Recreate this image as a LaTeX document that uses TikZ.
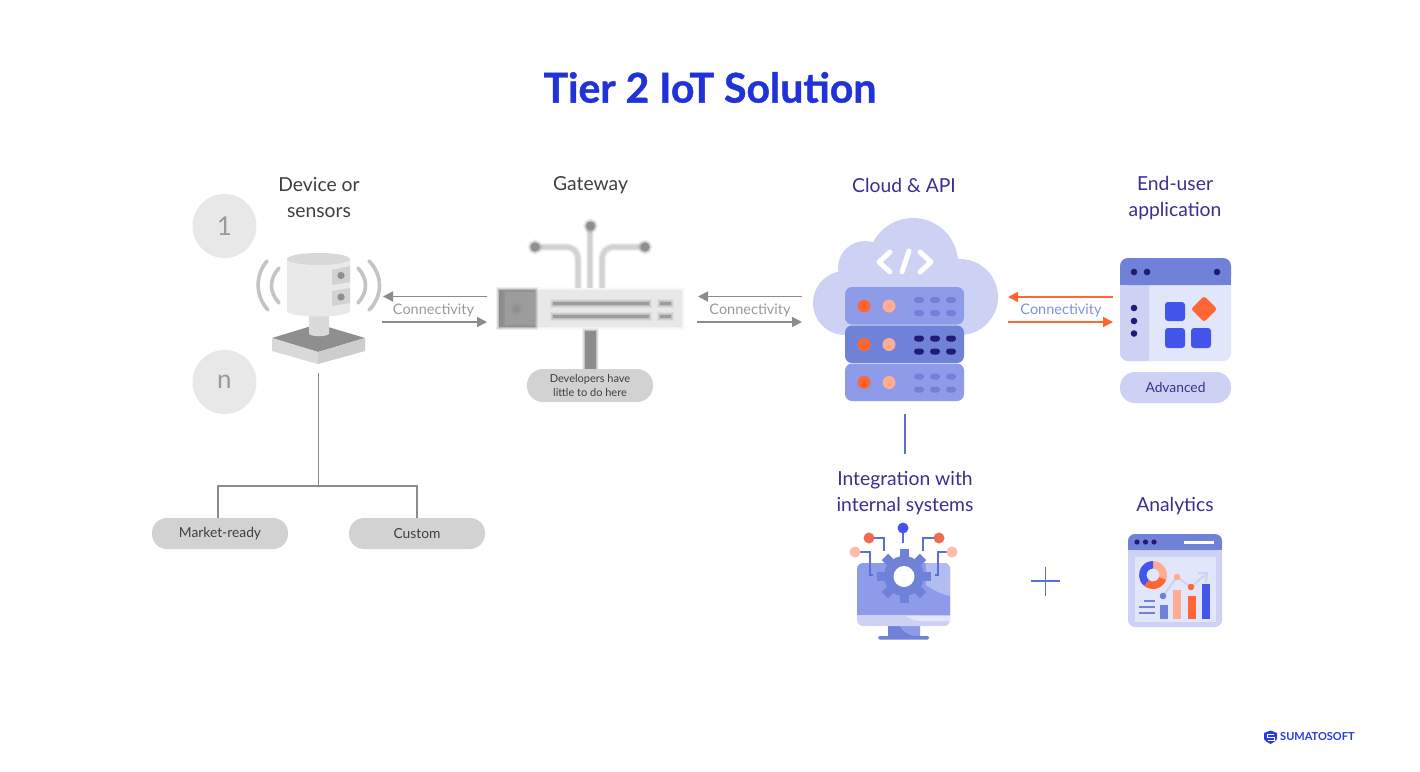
\documentclass[tikz,border=0pt]{standalone}
\usepackage{fontspec}
\setmainfont{Lato}
\newfontfamily\titlefont[FakeBold=1.0]{Lato Bold}
\usetikzlibrary{arrows.meta}
\definecolor{titleblue}{HTML}{1F33D9}
\definecolor{navytext}{HTML}{3A2F8F}
\definecolor{labgrey}{HTML}{3F3F3F}
\definecolor{congrey}{HTML}{9A9A9A}
\definecolor{arrgrey}{HTML}{8C8C8C}
\definecolor{pillgrey}{HTML}{D2D2D2}
\definecolor{circgrey}{HTML}{E8E8E8}
\definecolor{lav}{HTML}{CDD2F4}
\definecolor{lavlight}{HTML}{E2E6FB}
\definecolor{lavmid}{HTML}{B3BCF0}
\definecolor{peri}{HTML}{8E9BE8}
\definecolor{peridark}{HTML}{6F82D8}
\definecolor{navy}{HTML}{231A78}
\definecolor{royal}{HTML}{4355EA}
\definecolor{orangeA}{HTML}{FF6633}
\definecolor{peach}{HTML}{FFAD92}
\definecolor{redsoft}{HTML}{EE6B55}
\definecolor{peachsoft}{HTML}{FFBBA8}
\definecolor{thinblue}{HTML}{5A6FD6}
\definecolor{logoblue}{HTML}{2A3BE0}
\definecolor{gA}{HTML}{8F8F8F}
\definecolor{gB}{HTML}{D9D9D9}
\definecolor{gC}{HTML}{CDCDCD}
\definecolor{gD}{HTML}{DADADA}
\definecolor{gE}{HTML}{E9E9E9}
\definecolor{gF}{HTML}{D8D8D8}
\definecolor{gG}{HTML}{D2D2D2}
\definecolor{gW}{HTML}{C4C4C4}
\definecolor{gS}{HTML}{9C9C9C}
\tikzset{
  lab/.style={font=\fontsize{19.3}{26}\selectfont,align=center,inner sep=0pt},
  conlab/.style={font=\fontsize{14.5}{16}\selectfont,inner sep=0pt},
  pill/.style={rounded corners=15pt,inner sep=0pt,font=\fontsize{13.8}{16}\selectfont,align=center},
  greyarrow/.style={draw=arrgrey,line width=1.8pt,-{Triangle[length=10pt,width=10pt]}},
  orangearrow/.style={draw=orangeA,line width=1.8pt,-{Triangle[length=10pt,width=10pt]}},
  treeline/.style={draw=arrgrey,line width=1.9pt},
  bluerule/.style={draw=thinblue,line width=1.5pt},
  circ/.style={circle,fill=circgrey,minimum size=64pt,inner sep=0pt,text=congrey,font=\fontsize{26}{28}\selectfont},
  blur/.style={preaction={draw=#1,line width=6pt,opacity=.12},preaction={draw=#1,line width=4pt,opacity=.2},preaction={draw=#1,line width=2pt,opacity=.3},fill=#1},
  wave/.style={draw=gW,line width=3.6pt,line cap=round},
  iconwire/.style={draw=thinblue,line width=2pt},
  antenna/.style={draw=pillgrey,line width=4pt,preaction={draw=pillgrey,line width=8pt,opacity=.3},preaction={draw=pillgrey,line width=6pt,opacity=.4}},
}
\begin{document}
\begin{tikzpicture}[x=1pt,y=-1pt]
\useasboundingbox[fill=white] (0,0) rectangle (1420,771);

% Title
\node[inner sep=0pt,text=titleblue,font=\fontsize{41}{44}\titlefont] (title) at (710,87.5) {Tier 2 IoT Solution};

% Headings
\node[lab,text=labgrey] (devlab) at (319,198) {Device or\\sensors};
\node[lab,text=labgrey] (gwlab) at (590.5,185) {Gateway};
\node[lab,text=navytext] (cloudlab) at (904,185) {Cloud \& API};
\node[lab,text=navytext] (applab) at (1175,198) {End-user\\application};
\node[lab,text=navytext] (intlab) at (905,493) {Integration with\\internal systems};
\node[lab,text=navytext] (analab) at (1175,506) {Analytics};

% Count circles
\node[circ] (c1) at (224.5,226) {1};
\node[circ] (cn) at (224.5,382) {n};

% ---------- Device ----------
\draw[wave] (267,261) .. controls (255,275) and (255,296) .. (268,310);
\draw[wave] (279,268) .. controls (269,279) and (269,292) .. (279,303);
\draw[wave] (358,268) .. controls (368,279) and (368,292) .. (358,303);
\draw[wave] (369,261) .. controls (383,275) and (383,296) .. (369,310);
\fill[gA] (272,338) -- (318,324) -- (365,338) -- (318,352) -- cycle;
\fill[gB] (272,338) -- (318,352) -- (318,364) -- (272,351) -- cycle;
\fill[gC] (365,338) -- (318,352) -- (318,364) -- (365,351) -- cycle;
\fill[gD] (309,312) -- (329,312) -- (329,334) .. controls (325,337) and (313,337) .. (309,334) -- cycle;
\fill[gE] (287,259) -- (350,259) -- (350,312) .. controls (340,318) and (297,318) .. (287,312) -- cycle;
\fill[gF] (318.5,259) ellipse[x radius=31.5,y radius=6];
\fill[gG] (332,270) -- (350,266) -- (350,282) -- (332,285) -- cycle;
\fill[gG] (332,291) -- (350,288) -- (350,303) -- (332,306) -- cycle;
\fill[gA] (341,275.5) circle[radius=3.6];
\fill[gA] (341,297) circle[radius=3.6];
\coordinate (devfoot) at (318.5,373);

% device connectivity
\coordinate (dL1) at (383,296.5); \coordinate (dR1) at (487,296.5);
\coordinate (dL2) at (382,322); \coordinate (dR2) at (487,322);
\draw[greyarrow] (dR1) -- (dL1);
\draw[greyarrow] (dL2) -- (dR2);
\node[conlab,text=congrey] (con1) at (433.5,310) {Connectivity};

% tree
\node[pill,fill=pillgrey,text=labgrey,minimum width=136pt,minimum height=31pt] (market) at (220,533.5) {\raisebox{-1pt}{Market-ready}};
\node[pill,fill=pillgrey,text=labgrey,minimum width=136pt,minimum height=31pt] (custom) at (417,533.5) {\raisebox{-1pt}{Custom}};
\coordinate (fork) at (318.5,486);
\coordinate (mtop) at (218,518);
\draw[treeline] (devfoot) -- (fork);
\draw[treeline] (mtop) |- (fork) -| (custom.north);

% ---------- Gateway ----------
\draw[antenna] (590,226) -- (590,288);
\draw[antenna] (535,247) -- (565,247) .. controls (574,247) and (578,252) .. (578,260) -- (578,288);
\draw[antenna] (645,247) -- (615,247) .. controls (606,247) and (602,252) .. (602,260) -- (602,288);
\path[blur=gA] (535,247) circle[radius=4.5];
\path[blur=gA] (645,247) circle[radius=4.5];
\path[blur=gA] (590.5,226) circle[radius=4.5];
\path[blur=arrgrey] (585,331) rectangle (596,369);
\path[blur=circgrey] (500,290) rectangle (682,327);
\path[blur=arrgrey] (499,290) rectangle (535,327);
\path[blur=gS] (505,292) rectangle (535,325);
\path[blur=gA] (516.5,309) circle[radius=3.5];
\path[blur=gS] (553,302) rectangle (649,305);
\path[blur=gS] (553,315) rectangle (649,318);
\path[blur=gS] (660,302) rectangle (671,305);
\path[blur=gS] (660,315) rectangle (671,318);
\node[pill,fill=pillgrey,text=labgrey,rounded corners=16pt,minimum width=126pt,minimum height=33pt,font=\fontsize{11}{14.5}\selectfont] (dev) at (590,385.5) {Developers have\\little to do here};

% gateway connectivity
\coordinate (gL1) at (698,296.5); \coordinate (gR1) at (802,296.5);
\coordinate (gL2) at (697,322); \coordinate (gR2) at (802,322);
\draw[greyarrow] (gR1) -- (gL1);
\draw[greyarrow] (gL2) -- (gR2);
\node[conlab,text=congrey] (con2) at (750,310) {Connectivity};

% ---------- Cloud ----------
\fill[lav] (913,263) circle[radius=45];
\fill[lav] (865,268) circle[radius=27];
\fill[lav] (845,303) circle[radius=32];
\fill[lav] (960,297) circle[radius=38];
\fill[lav] (845,285) rectangle (965,335);
\begin{scope}[draw=white,line width=5pt,line cap=round,line join=round]
\draw (890,252) -- (879,262) -- (890,272);
\draw (909,251) -- (902,272);
\draw (920,252) -- (931,262) -- (920,272);
\end{scope}
\foreach \yy/\bg/\pl in {287/peri/peridark,325.5/peridark/navy,363.5/peri/peridark}{
  \begin{scope}[shift={(0,\yy)}]
    \fill[\bg,rounded corners=7pt] (845,0) rectangle (964,37.5);
    \fill[orangeA] (864,19) circle[radius=6.5];
    \fill[peach] (889,19) circle[radius=6.5];
    \foreach \xx in {919,935,951}{
      \fill[\pl,rounded corners=3pt] (\xx-5,10) rectangle (\xx+5,16);
      \fill[\pl,rounded corners=3pt] (\xx-5,23) rectangle (\xx+5,29);
    }
  \end{scope}
}
\coordinate (srvfoot) at (905,414);
\coordinate (intop) at (905,454);
\draw[bluerule] (srvfoot) -- (intop);

% cloud connectivity
\coordinate (aL1) at (1008,297); \coordinate (aR1) at (1113,297);
\coordinate (aL2) at (1008,322); \coordinate (aR2) at (1113,322);
\draw[orangearrow] (aR1) -- (aL1);
\draw[orangearrow] (aL2) -- (aR2);
\node[conlab,text=peri!85!royal] (con3) at (1061,310) {Connectivity};

% ---------- App ----------
\fill[lavlight,rounded corners=8pt] (1120,258) rectangle (1231,361);
\fill[lav,rounded corners=8pt] (1120,275) rectangle (1149,361);
\fill[lav] (1135,275) rectangle (1149,361);
\fill[peridark,rounded corners=8pt] (1120,258) rectangle (1231,285);
\fill[peridark] (1120,272) rectangle (1231,285);
\foreach \p in {(1134,272),(1147,272),(1217,272),(1134,308),(1134,321),(1134,333.5)}{
  \fill[navy] \p circle[radius=3.3];
}
\fill[royal,rounded corners=3pt] (1165,302) rectangle (1185,321);
\fill[royal,rounded corners=3pt] (1165,328) rectangle (1185,348);
\fill[royal,rounded corners=3pt] (1191,328) rectangle (1211,348);
\fill[orangeA,rounded corners=2.5pt] (1204,296) -- (1217,309) -- (1204,322) -- (1191,309) -- cycle;
\node[pill,fill=lav,text=navytext,minimum width=111pt,minimum height=31pt] (adv) at (1175.5,387.5) {\raisebox{-1pt}{Advanced}};

% ---------- Integration icon ----------
\fill[peridark] (888,626) rectangle (920,637);
\fill[peri] (900,626) .. controls (902,632) and (910,636) .. (920,637) -- (920,626) -- cycle;
\fill[peridark,rounded corners=1.5pt] (878,636) rectangle (929,639.5);
\fill[lav,rounded corners=6pt] (857,600) rectangle (950,626);
\fill[white,opacity=.45] (906,616) .. controls (912,620) and (915,621) .. (922,621) -- (950,621) -- (950,616) -- cycle;
\fill[peri,rounded corners=6pt] (857,563) rectangle (950,610);
\fill[peri] (857,600) rectangle (950,615);
\fill[lavmid,rounded corners=5pt] (922,563) rectangle (950,600);
\fill[peri] (918,583) .. controls (925,581) and (930,592) .. (950,596) -- (950,615) -- (918,615) -- cycle;
\fill[peri] (918,563) rectangle (926,600);
\draw[iconwire] (869,538) -- (883.5,538) -- (883.5,551);
\draw[iconwire] (855,552) -- (870,552) -- (870,575) -- (873,575);
\draw[iconwire] (903,528) -- (903,543);
\draw[iconwire] (939,538) -- (923,538) -- (923,551);
\draw[iconwire] (952,552) -- (938,552) -- (938,575) -- (935,575);
\fill[peridark] (904,576) circle[radius=20];
\foreach \a in {0,45,...,315}{
  \fill[peridark,shift={(904,576)},rotate=\a] (-4.5,-27) rectangle (4.5,-17);
}
\fill[white] (904,576.5) circle[radius=10.5];
\fill[royal] (903,528) circle[radius=5.5];
\fill[redsoft] (869,538) circle[radius=5.5];
\fill[redsoft] (939,538) circle[radius=5.5];
\fill[peachsoft] (855,552) circle[radius=5.5];
\fill[peachsoft] (952,552) circle[radius=5.5];

% plus
\coordinate (plL) at (1031,581); \coordinate (plR) at (1060,581);
\coordinate (plT) at (1045.5,566.5); \coordinate (plB) at (1045.5,595.5);
\draw[bluerule] (plL) -- (plR);
\draw[bluerule] (plT) -- (plB);

% ---------- Analytics icon ----------
\fill[lav,rounded corners=7pt] (1128,534) rectangle (1222,627);
\fill[peridark,rounded corners=7pt] (1128,534) rectangle (1222,550);
\fill[peridark] (1128,543) rectangle (1222,550);
\foreach \xx in {1137,1145.5,1154}{\fill[navy] (\xx,542) circle[radius=2.6];}
\draw[white,line width=3pt] (1184,542) -- (1214,542);
\fill[lavlight] (1135,557) rectangle (1216,622);
\draw[lav,line width=2pt] (1163,596) -- (1177,577) -- (1191,587) -- (1205,575);
\draw[lav,line width=2pt] (1198,573) -- (1207,573) -- (1206,582);
\fill[peridark] (1160,605) rectangle (1167.5,619);
\fill[peach] (1173,590) rectangle (1181,619);
\fill[orangeA] (1188,596) rectangle (1196,619);
\fill[royal] (1202,584) rectangle (1210,619);
\fill[peridark] (1163,596) circle[radius=3.3];
\fill[peach] (1177,577) circle[radius=3.3];
\fill[orangeA] (1191,587) circle[radius=3.3];
\draw[peridark,line width=2pt] (1144,601) -- (1155,601);
\draw[peridark,line width=2pt] (1139,607) -- (1155,607);
\draw[peridark,line width=2pt] (1139,613) -- (1155,613);
% donut
\foreach \sa/\ea/\cc in {-90/20/peach,20/130/orangeA,130/270/royal}{
  \fill[\cc] (1153,575) ++(\sa:14) arc[start angle=\sa,end angle=\ea,radius=14] -- ++(\ea:-7.5) arc[start angle=\ea,end angle=\sa,radius=6.5] -- cycle;
}

% ---------- Logo ----------
\fill[logoblue] (1264,733) -- (1270.5,730.5) -- (1277,733) -- (1277,739) .. controls (1276,741) and (1273,743) .. (1270.5,744) .. controls (1268,743) and (1265,741) .. (1264,739) -- cycle;
\draw[white,line width=1pt] (1274,734.5) -- (1267,734.5) -- (1267,737.5) -- (1274,737.5) -- (1274,740.5) -- (1268,740.5);
\node[inner sep=0pt,anchor=west,text=logoblue,font=\fontsize{11}{12}\selectfont\bfseries] (logo) at (1280,737) {SUMATOSOFT};
\end{tikzpicture}
\end{document}
